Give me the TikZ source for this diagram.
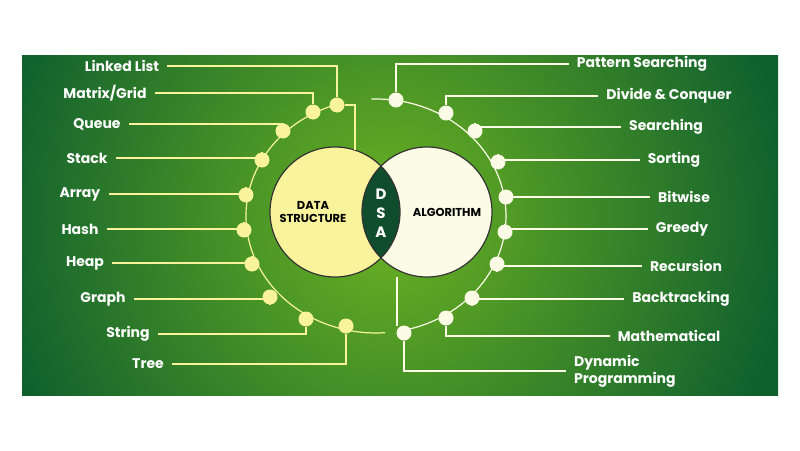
\documentclass[tikz,border=0pt]{standalone}
\usepackage{fontspec}
\setmainfont{Poppins}
\definecolor{bgdark}{HTML}{10602E}
\definecolor{bglight}{HTML}{6CB322}
\definecolor{lensgreen}{HTML}{0F4D2D}
\definecolor{paleyellow}{HTML}{F9F49C}
\definecolor{paleivory}{HTML}{FCFCE6}
\tikzset{
  dot/.style={circle,fill=paleyellow,inner sep=0pt,minimum size=15pt},
  rdot/.style={circle,fill=paleivory,inner sep=0pt,minimum size=15pt},
  lbl/.style={text=white,font=\bfseries\fontsize{14}{17}\selectfont,inner sep=2pt},
  wire/.style={paleyellow,line width=1.2pt},
  rwire/.style={paleivory,line width=1.2pt}
}
\begin{document}
\begin{tikzpicture}[x=1pt,y=-1pt]
  \useasboundingbox (0,0) rectangle (800,450);
  \begin{scope}
    \clip (22,55) rectangle (778,395);
    \shade[inner color=bglight,outer color=bgdark] (-10,-190) rectangle (790,630);
  \end{scope}

  % ring
  \draw[wire] (376,216) ++(-107:130 and 117) arc[start angle=-107,end angle=-274,x radius=130,y radius=117];
  \draw[rwire] (376,216) ++(-92:130 and 117) arc[start angle=-92,end angle=77,x radius=130,y radius=117];

  % venn
  \coordinate (CL) at (335,212);
  \coordinate (CR) at (427,212);
  \fill[paleyellow] (CL) circle (65);
  \fill[paleivory] (CR) circle (65);
  \begin{scope}
    \clip (CL) circle (65);
    \fill[lensgreen] (CR) circle (65);
  \end{scope}
  \draw[black!80,line width=1.2pt] (CL) circle (65) (CR) circle (65);
  \node[font=\bfseries\fontsize{11.5}{13}\selectfont,align=center] at (313,212) {DATA\\STRUCTURE};
  \node[font=\bfseries\fontsize{11.5}{13}\selectfont] at (447,212) {ALGORITHM};
  \node[text=white,font=\bfseries\fontsize{15}{19}\selectfont,align=center] at (381,213) {D\\S\\A};

  % left side
  \foreach \name/\txt/\lx/\ly/\dx/\dy in {
      ll/Linked List/122/66/337/105, mg/Matrix\slash Grid/105/93/313/112,
      qu/Queue/97/124/283/131, st/Stack/87/158/262/160,
      ar/Array/80/194/246/195, ha/Hash/80/229/244/230,
      he/Heap/85/263/252/264, gr/Graph/103/299/270/297,
      sr/String/128/334/306/319, tr/Tree/148/364/346/326} {
    \node[lbl] (t\name) at (\lx,\ly) {\txt};
    \node[dot] (d\name) at (\dx,\dy) {};
    \draw[wire] ([xshift=6pt]t\name.east) -| (d\name);
  }
  \draw[wire] (dll) -- (355,105) -- (355,150);

  % right side
  \foreach \name/\txt/\lx/\ly/\dx/\dy in {
      ps/Pattern Searching/642/64/396/100, dc/Divide \& Conquer/669/96/446/113,
      se/Searching/666/127/475/131, so/Sorting/674/160/498/162,
      bw/Bitwise/684/197/506/197, gd/Greedy/682/229/505/232,
      rc/Recursion/686/266/497/264, bt/Backtracking/681/299/472/298,
      ma/Mathematical/669/336/446/318} {
    \node[lbl] (t\name) at (\lx,\ly) {\txt};
    \node[rdot] (d\name) at (\dx,\dy) {};
    \draw[rwire] (d\name) |- ([xshift=-6pt]t\name.west);
  }
  \node[lbl,anchor=west,align=left] (tdp) at (572,371) {Dynamic\\Programming};
  \node[rdot] (ddp) at (404,333) {};
  \draw[rwire] (397,277) -- (397,326);
  \draw[rwire] (ddp) |- ([xshift=-6pt]tdp.west);
\end{tikzpicture}
\end{document}
